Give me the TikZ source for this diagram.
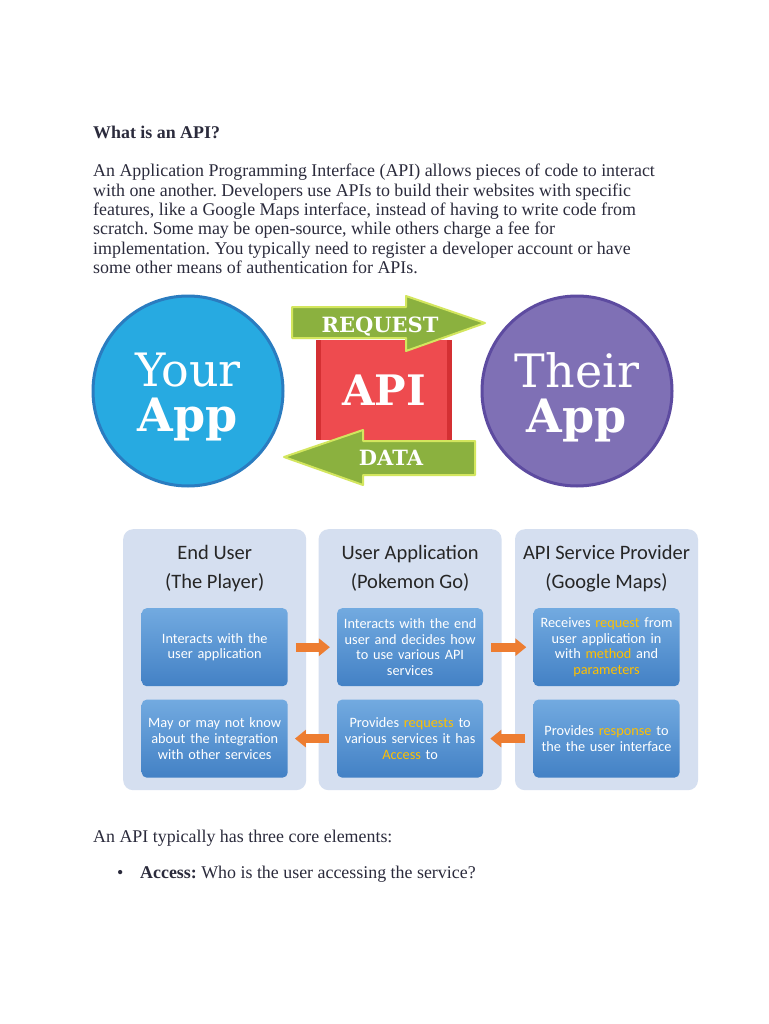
\documentclass[tikz,border=0pt]{standalone}
\usepackage{fontspec}
\setmainfont{Liberation Serif}
\newfontfamily\slabfont{DejaVu Serif}
\newfontfamily\calibrifont{Carlito}
\usetikzlibrary{arrows.meta,positioning}
\definecolor{ink}{HTML}{2B2B3C}
\definecolor{headink}{HTML}{262626}
\definecolor{sky}{HTML}{27AAE1}
\definecolor{skyedge}{HTML}{2A7CC0}
\definecolor{grape}{HTML}{7F70B5}
\definecolor{grapeedge}{HTML}{5D4BA0}
\definecolor{apired}{HTML}{EE4B4F}
\definecolor{apiedge}{HTML}{D43033}
\definecolor{leaf}{HTML}{8BB13F}
\definecolor{lime}{HTML}{D3E65E}
\definecolor{panel}{HTML}{D5DFF0}
\definecolor{boxtop}{HTML}{72AAE0}
\definecolor{boxbot}{HTML}{4381C5}
\definecolor{gold}{HTML}{FFC000}
\definecolor{orangeflow}{HTML}{ED7D31}
\newcommand{\hl}[1]{\textcolor{gold}{#1}}
\frenchspacing
\tikzset{
  txt/.style={anchor=base west,inner sep=0pt,text=ink,font=\fontsize{17.9}{19.3}\selectfont},
  para/.style={anchor=north west,inner sep=0pt,align=left,text=ink,font=\fontsize{17.9}{19.3}\selectfont},
  appcircle/.style={circle,minimum size=190pt,line width=3pt,inner sep=0pt},
  applabel/.style={align=center,inner sep=0pt,text=white,font=\slabfont\fontsize{46}{45}\selectfont},
  apibox/.style={fill=apired,minimum width=136pt,minimum height=100pt,inner sep=0pt,text=white,font=\slabfont\bfseries\fontsize{42}{42}\selectfont},
  greenarrow/.style={fill=leaf,draw=lime,line width=2pt,line join=round},
  arrowtext/.style={anchor=base,text=white,inner sep=0pt,font=\slabfont\bfseries\fontsize{21}{21}\selectfont},
  panelbox/.style={fill=panel,rounded corners=10pt,minimum width=183pt,minimum height=261pt,inner sep=0pt},
  headtext/.style={align=center,inner sep=0pt,text=headink,font=\calibrifont\fontsize{20.5}{29}\selectfont},
  stepbox/.style={rounded corners=5pt,top color=boxtop,bottom color=boxbot,minimum width=146pt,minimum height=78pt,
    text width=144pt,align=center,inner sep=0pt,text=white,font=\calibrifont\fontsize{14.3}{15.6}\selectfont},
  flow/.style={-{Triangle[length=11pt,width=17pt]},line width=9pt,draw=orangeflow,shorten <=8pt,shorten >=7pt}
}
\begin{document}
\begin{tikzpicture}[x=1pt,y=-1pt]
  \useasboundingbox[fill=white] (0,0) rectangle (768,1024);

  % text above
  \node[txt,font=\bfseries\fontsize{17.9}{19.3}\selectfont] (title) at (93,139) {What is an API?};
  \node[para] (intro) at (93,164) {An Application Programming Interface (API) allows pieces of code to interact\\
    with one another. Developers use APIs to build their websites with specific\\
    features, like a Google Maps interface, instead of having to write code from\\
    scratch. Some may be open-source, while others charge a fee for\\
    implementation. You typically need to register a developer account or have\\
    some other means of authentication for APIs.};

  % apps and api
  \node[appcircle,fill=sky,draw=skyedge] (your) at (188,391) {};
  \node[applabel] (yourlbl) at (188,397) {Your\\\bfseries App};
  \node[appcircle,fill=grape,draw=grapeedge] (their) at (577,391) {};
  \node[applabel] (theirlbl) at (577,397) {Their\\\bfseries App};
  \node[apibox] (api) at (384,390) {API};
  \fill[apiedge] (api.north west) rectangle ([xshift=5pt]api.south west);
  \fill[apiedge] (api.north east) rectangle ([xshift=-5pt]api.south east);
  \filldraw[greenarrow] (292,307) -- (406,307) -- (406,296) -- (485,323) -- (406,351) -- (406,338) -- (292,338) -- cycle;
  \node[arrowtext] (req) at (380,332) {REQUEST};
  \filldraw[greenarrow] (475,441) -- (363,441) -- (363,430) -- (284,457) -- (363,485) -- (363,475) -- (475,475) -- cycle;
  \node[arrowtext] (dat) at (391,465) {DATA};

  % three columns
  \node[panelbox,anchor=north west] (p1) at (123,529) {};
  \node[panelbox,right=12pt of p1] (p2) {};
  \node[panelbox,right=13pt of p2] (p3) {};
  \node[headtext,below=16pt of p1.north] (h1) {End User\\(The Player)};
  \node[headtext,below=16pt of p2.north] (h2) {User Application\\(Pokemon Go)};
  \node[headtext,below=16pt of p3.north] (h3) {API Service Provider\\(Google Maps)};
  \node[stepbox,below=79pt of p1.north] (s11) {Interacts with the\\user application};
  \node[stepbox,below=79pt of p2.north] (s12) {Interacts with the end\\user and decides how\\to use various API\\services};
  \node[stepbox,below=79pt of p3.north] (s13) {Receives \hl{request} from\\user application in\\with \hl{method} and\\\hl{parameters}};
  \node[stepbox,below=13pt of s11] (s21) {May or may not know\\about the integration\\with other services};
  \node[stepbox,below=13pt of s12] (s22) {Provides \hl{requests} to\\various services it has\\\hl{Access} to};
  \node[stepbox,below=13pt of s13] (s23) {Provides \hl{response} to\\the the user interface};
  \draw[flow] (s11) -- (s12);
  \draw[flow] (s12) -- (s13);
  \draw[flow] (s23) -- (s22);
  \draw[flow] (s22) -- (s21);

  % text below
  \node[txt] (core) at (93,842) {An API typically has three core elements:};
  \node[txt] (dot) at (117,878) {\textbullet};
  \node[txt] (access) at (140,878) {\textbf{Access:} Who is the user accessing the service?};
\end{tikzpicture}
\end{document}
